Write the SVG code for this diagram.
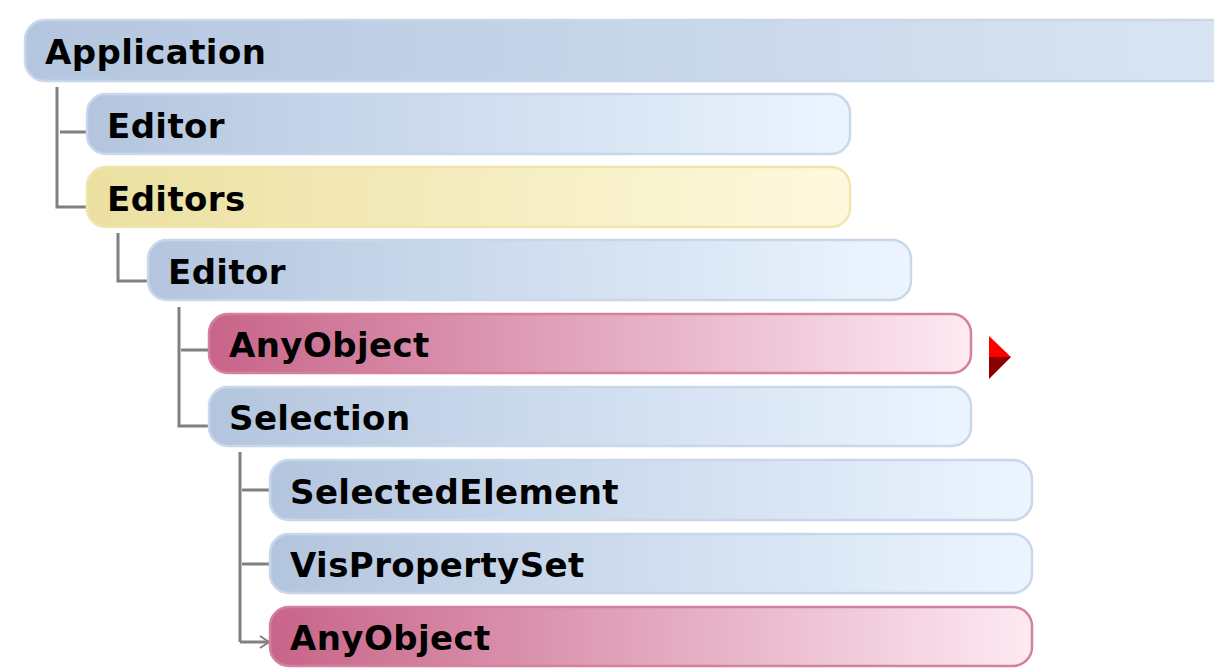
<svg xmlns="http://www.w3.org/2000/svg" width="1214" height="671" viewBox="0 0 1214 671">
<defs>
<linearGradient id="gApp" x1="0" y1="0" x2="1" y2="0"><stop offset="0" stop-color="#b4c6df"/><stop offset="1" stop-color="#dae6f3"/></linearGradient>
<linearGradient id="gBlue" x1="0" y1="0" x2="1" y2="0"><stop offset="0" stop-color="#b3c5de"/><stop offset="1" stop-color="#ecf5ff"/></linearGradient>
<linearGradient id="gYel" x1="0" y1="0" x2="1" y2="0"><stop offset="0" stop-color="#ebe0a0"/><stop offset="1" stop-color="#fef9de"/></linearGradient>
<linearGradient id="gPink" x1="0" y1="0" x2="1" y2="0"><stop offset="0" stop-color="#c86489"/><stop offset="1" stop-color="#fdeaf2"/></linearGradient>
<marker id="arr" viewBox="0 0 12 14" refX="11" refY="7" markerWidth="12" markerHeight="14" markerUnits="userSpaceOnUse" orient="auto"><path d="M2,1 L11,7 L2,13" fill="none" stroke="#808080" stroke-width="2"/></marker>
</defs>
<style>
.blue{fill:url(#gBlue);stroke:#c9d7ea;stroke-width:2.5}
.app{fill:url(#gApp);stroke:#c9d7ea;stroke-width:2.5}
.yel{fill:url(#gYel);stroke:#efe6ac;stroke-width:2.5}
.pink{fill:url(#gPink);stroke:#d4809f;stroke-width:2.5}
text{font-family:"DejaVu Sans","Verdana",sans-serif;font-weight:bold;font-size:34px;fill:#000;letter-spacing:0.4px}
.c{fill:none;stroke:#808080;stroke-width:3}
</style>
<rect width="1214" height="671" fill="#fff"/>
<g id="connectors">
<path class="c" d="M57,87 V207 H87 M60,132 H87"/>
<path class="c" d="M118,233 V281 H148"/>
<path class="c" d="M179,307 V426 H209 M181,350 H209"/>
<path class="c" d="M240,452 V642 M242,490 H270 M242,564 H270"/>
<path class="c" d="M240,642 H269" marker-end="url(#arr)"/>
</g>
<g id="n-application"><rect class="app" x="25" y="20" width="1240" height="61" rx="20"/><text x="45" y="64">Application</text></g>
<g id="n-editor1"><rect class="blue" x="87" y="94" width="763" height="60" rx="19"/><text x="107" y="138">Editor</text></g>
<g id="n-editors"><rect class="yel" x="87" y="167" width="763" height="60" rx="19"/><text x="107" y="211">Editors</text></g>
<g id="n-editor2"><rect class="blue" x="148" y="240" width="763" height="60" rx="19"/><text x="168" y="284">Editor</text></g>
<g id="n-anyobject1"><rect class="pink" x="209" y="314" width="762" height="59" rx="19"/><text x="229" y="357">AnyObject</text></g>
<g id="n-selection"><rect class="blue" x="209" y="387" width="762" height="59" rx="19"/><text x="229" y="430">Selection</text></g>
<g id="n-selectedelement"><rect class="blue" x="270" y="460" width="762" height="60" rx="19"/><text x="290" y="504">SelectedElement</text></g>
<g id="n-vispropertyset"><rect class="blue" x="270" y="534" width="762" height="59" rx="19"/><text x="290" y="577">VisPropertySet</text></g>
<g id="n-anyobject2"><rect class="pink" x="270" y="607" width="762" height="59" rx="19"/><text x="290" y="650">AnyObject</text></g>
<g id="expander">
<polygon points="989,336 1011,357 989,357" fill="#ff0000"/>
<polygon points="989,357 1011,357 989,379" fill="#8b0000"/>
</g>
</svg>
